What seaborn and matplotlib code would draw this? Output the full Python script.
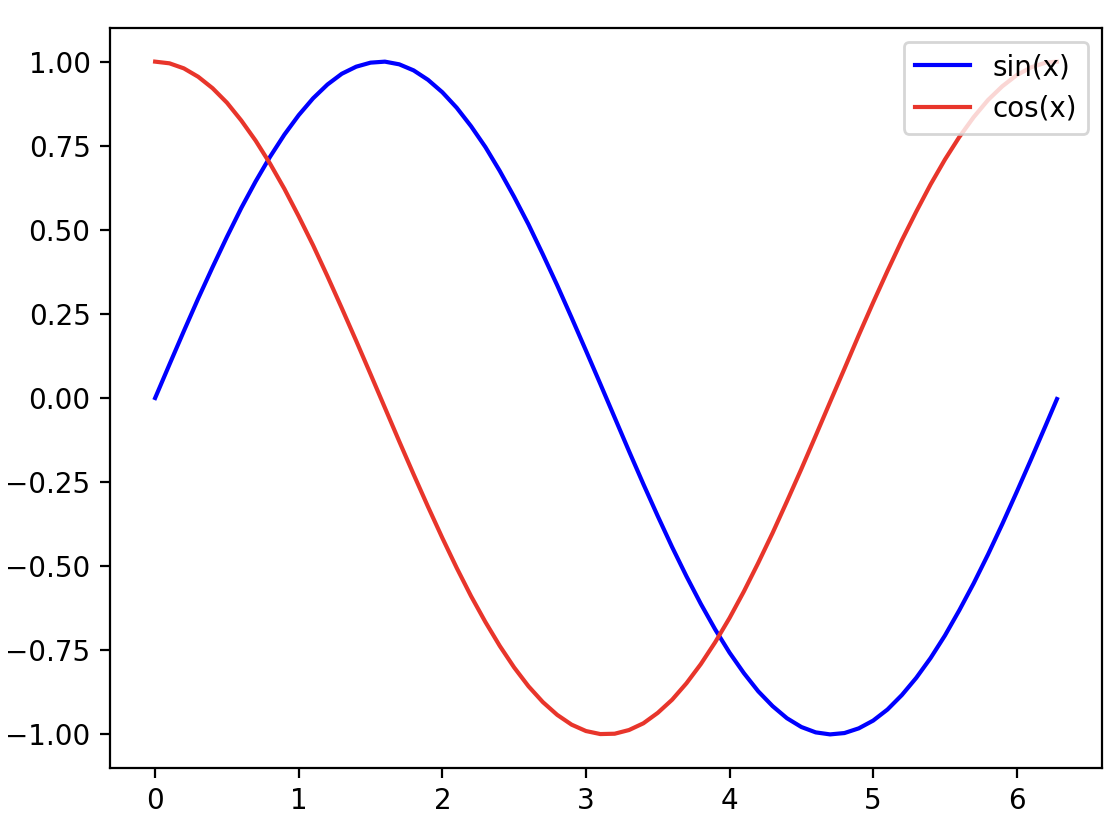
import matplotlib
matplotlib.use('Agg')
import matplotlib.pyplot as plt
import seaborn as sns
import pandas as pd

# values
x = [0.0, 0.1, 0.2, 0.3, 0.4, 0.5, 0.6, 0.7, 0.8, 0.9,
     1.0, 1.1, 1.2, 1.3, 1.4, 1.5, 1.6, 1.7, 1.8, 1.9,
     2.0, 2.1, 2.2, 2.3, 2.4, 2.5, 2.6, 2.7, 2.8, 2.9,
     3.0, 3.1, 3.2, 3.3, 3.4, 3.5, 3.6, 3.7, 3.8, 3.9,
     4.0, 4.1, 4.2, 4.3, 4.4, 4.5, 4.6, 4.7, 4.8, 4.9,
     5.0, 5.1, 5.2, 5.3, 5.4, 5.5, 5.6, 5.7, 5.8, 5.9,
     6.0, 6.1, 6.2, 6.28]
sin_vals = [0.000, 0.100, 0.199, 0.296, 0.389, 0.479, 0.565, 0.644, 0.717, 0.783,
            0.841, 0.891, 0.932, 0.964, 0.985, 0.997, 1.000, 0.992, 0.974, 0.946,
            0.909, 0.863, 0.808, 0.746, 0.675, 0.598, 0.516, 0.427, 0.335, 0.239,
            0.141, 0.042, -0.058, -0.158, -0.256, -0.351, -0.443, -0.530, -0.612, -0.688,
            -0.757, -0.818, -0.872, -0.916, -0.952, -0.978, -0.994, -1.000, -0.996, -0.982,
            -0.959, -0.926, -0.883, -0.832, -0.773, -0.706, -0.631, -0.551, -0.465, -0.374,
            -0.279, -0.182, -0.083, -0.003]
cos_vals = [1.000, 0.995, 0.980, 0.955, 0.921, 0.878, 0.825, 0.765, 0.697, 0.622,
            0.540, 0.454, 0.362, 0.267, 0.170, 0.071, -0.029, -0.129, -0.227, -0.323,
            -0.416, -0.505, -0.589, -0.666, -0.737, -0.801, -0.857, -0.904, -0.942, -0.971,
            -0.990, -0.999, -0.998, -0.987, -0.967, -0.936, -0.897, -0.848, -0.791, -0.726,
            -0.654, -0.575, -0.490, -0.401, -0.307, -0.211, -0.112, -0.012, 0.087, 0.187,
            0.284, 0.378, 0.469, 0.554, 0.635, 0.709, 0.776, 0.835, 0.886, 0.927,
            0.960, 0.983, 0.997, 1.000]

df = pd.DataFrame({'x': x, 'sin': sin_vals, 'cos': cos_vals})

fig, ax = plt.subplots(figsize=(5.58, 4.18), dpi=200)
fig.subplots_adjust(left=0.0986, right=0.9875, top=0.9665, bottom=0.0813)

sns.lineplot(data=df, x='x', y='sin', color='blue', label='sin(x)', ax=ax)
sns.lineplot(data=df, x='x', y='cos', color='#e8352b', label='cos(x)', ax=ax)

ax.set_xlabel('')
ax.set_ylabel('')
ax.set_yticks([-1.0, -0.75, -0.5, -0.25, 0.0, 0.25, 0.5, 0.75, 1.0])
ax.legend(loc='upper right')

plt.savefig('out.png', dpi=200)
